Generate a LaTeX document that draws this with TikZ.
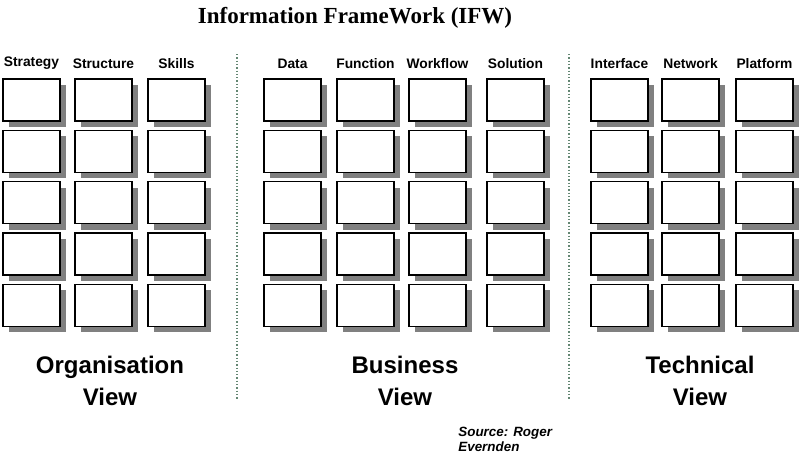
\documentclass[tikz,border=0pt]{standalone}
\usepackage{fontspec}
\setmainfont{Liberation Serif}
\setsansfont{Liberation Sans}
\usetikzlibrary{positioning,shadows}
\definecolor{sepgray}{RGB}{100,135,115}

\begin{document}
\begin{tikzpicture}[x=1pt, y=-1pt, node distance={51.3pt}, thick,
	cell/.style = {draw, line width=1.4pt, fill=white, inner sep=0pt, minimum width=57pt, minimum height=42pt,
		general shadow={fill=gray, shadow xshift=6pt, shadow yshift=-6pt}},
	head/.style = {font=\sffamily\bfseries\fontsize{13.8}{16}\selectfont},
	view/.style = {font=\sffamily\bfseries\fontsize{24}{32}\selectfont, align=center},
	sep/.style = {draw=sepgray, dotted, line width=1.3pt}]
		\useasboundingbox (0,0) rectangle (800,472);
		\node[font=\bfseries\fontsize{23}{26}\selectfont] (title) at (355,18) {Information FrameWork (IFW)};
		\foreach \c/\x/\t in {1/31.5/Strategy, 2/103.5/Structure, 3/176.5/Skills,
			4/292.5/Data, 5/365.5/Function, 6/437.5/Workflow, 7/515.5/Solution,
			8/619.5/Interface, 9/690.5/Network, 10/764.5/Platform} {
			\node[head] (h\c) at (\x,63.5) {\t};
			\node[cell] (\c-1) at (\x,100) {};
			\foreach \r [count=\p] in {2,...,5}
				\node[cell] (\c-\r) [below of=\c-\p] {};
		}
		\coordinate (s1t) at (237,54);
		\coordinate (s1b) at (237,400);
		\coordinate (s2t) at (569,54);
		\coordinate (s2b) at (569,400);
		\path[sep] (s1t) edge (s1b) (s2t) edge (s2b);
		\node[view] (org) at (110,381) {Organisation\\View};
		\node[view] (bus) at (405,381) {Business\\View};
		\node[view] (tec) at (700,381) {Technical\\View};
		\node[font=\sffamily\bfseries\itshape\fontsize{13.4}{15}\selectfont, align=left, anchor=north west, inner sep=0pt]
			(src) at (458,427) {Source: Roger\\Evernden};
	\end{tikzpicture}
\end{document}
